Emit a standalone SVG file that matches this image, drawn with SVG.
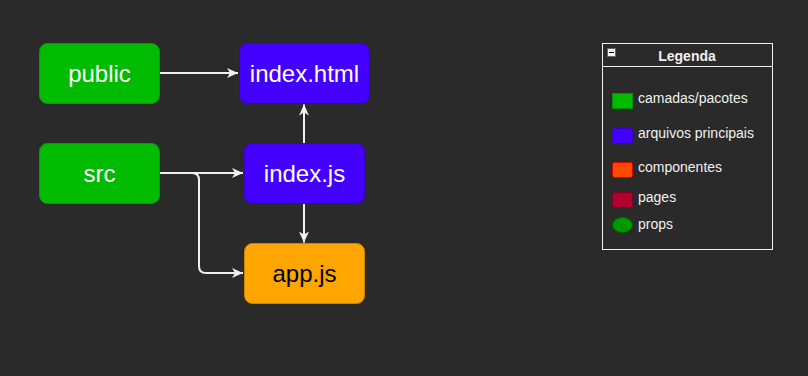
<svg xmlns="http://www.w3.org/2000/svg" width="808" height="376" viewBox="0 0 808 376">
<defs>
<style>
.node text{font-family:"Liberation Sans",Arial,sans-serif;font-size:24px;text-anchor:middle;dominant-baseline:central}
.g rect{fill:#00BB00;stroke:#00A000}
.p rect{fill:#4400FF;stroke:#3700CC}
.o rect{fill:#FFA500;stroke:#CC8400}
.w{fill:#ffffff}
.edge{fill:none;stroke:#F0F0F0;stroke-width:2}
.lg{font-family:"Liberation Sans",Arial,sans-serif;font-size:14px;fill:#F0F0F0}
</style>
<marker id="arr" markerWidth="12" markerHeight="12" viewBox="0 0 12 12" refX="11" refY="6" orient="auto" markerUnits="userSpaceOnUse">
<path d="M0,1 L11,6 L0,11 L3,6 Z" fill="#F0F0F0"/>
</marker>
</defs>
<rect width="808" height="376" fill="#2A2A2A"/>
<g id="connectors">
<path class="edge" d="M159.5,73 L238,73" marker-end="url(#arr)"/>
<path class="edge" d="M159.5,173 L243,173" marker-end="url(#arr)"/>
<path class="edge" d="M159.5,173 L192,173 Q199,173 199,180 L199,266 Q199,273 206,273 L243,273" marker-end="url(#arr)"/>
<path class="edge" d="M304,143.5 L304,104.5" marker-end="url(#arr)"/>
<path class="edge" d="M304,203.5 L304,242.5" marker-end="url(#arr)"/>
</g>
<g id="public" class="node g"><rect x="39.5" y="43.5" width="120" height="60" rx="8"/><text x="99.5" y="73.5" class="w">public</text></g>
<g id="src" class="node g"><rect x="39.5" y="143.5" width="120" height="60" rx="8"/><text x="99.5" y="173.5" class="w">src</text></g>
<g id="index-html" class="node p"><rect x="239.5" y="43.5" width="130" height="60" rx="8"/><text x="304.5" y="73.5" class="w">index.html</text></g>
<g id="index-js" class="node p"><rect x="244.5" y="143.5" width="120" height="60" rx="8"/><text x="304.5" y="173.5" class="w">index.js</text></g>
<g id="app-js" class="node o"><rect x="244.5" y="243.5" width="120" height="60" rx="8"/><text x="304.5" y="273.5" fill="#000000">app.js</text></g>
<g id="legend">
<rect x="602.5" y="43.5" width="170" height="206" fill="#2A2A2A" stroke="#F0F0F0"/>
<line x1="602.5" y1="66.5" x2="772.5" y2="66.5" stroke="#F0F0F0"/>
<rect x="607.5" y="48.5" width="8" height="8" fill="#F0F0F0" stroke="#666"/>
<line x1="609" y1="52.5" x2="614" y2="52.5" stroke="#000"/>
<text x="687" y="61" class="lg" font-weight="bold" text-anchor="middle">Legenda</text>
<rect x="612.5" y="93.5" width="20" height="15" fill="#00BB00" stroke="#009000"/>
<text x="638" y="103" class="lg">camadas/pacotes</text>
<rect x="612.5" y="128.5" width="20" height="15" rx="2" fill="#4400FF" stroke="#3700CC"/>
<text x="638" y="138" class="lg">arquivos principais</text>
<rect x="612.5" y="162.5" width="20" height="15" rx="2" fill="#FF4A00" stroke="#E00000"/>
<text x="638" y="172" class="lg">componentes</text>
<rect x="612.5" y="192.5" width="20" height="15" rx="2" fill="#B20030" stroke="#800020"/>
<text x="638" y="202" class="lg">pages</text>
<ellipse cx="622.5" cy="225" rx="10" ry="7.5" fill="#009900" stroke="#006600"/>
<text x="638" y="229" class="lg">props</text>
</g>
</svg>
